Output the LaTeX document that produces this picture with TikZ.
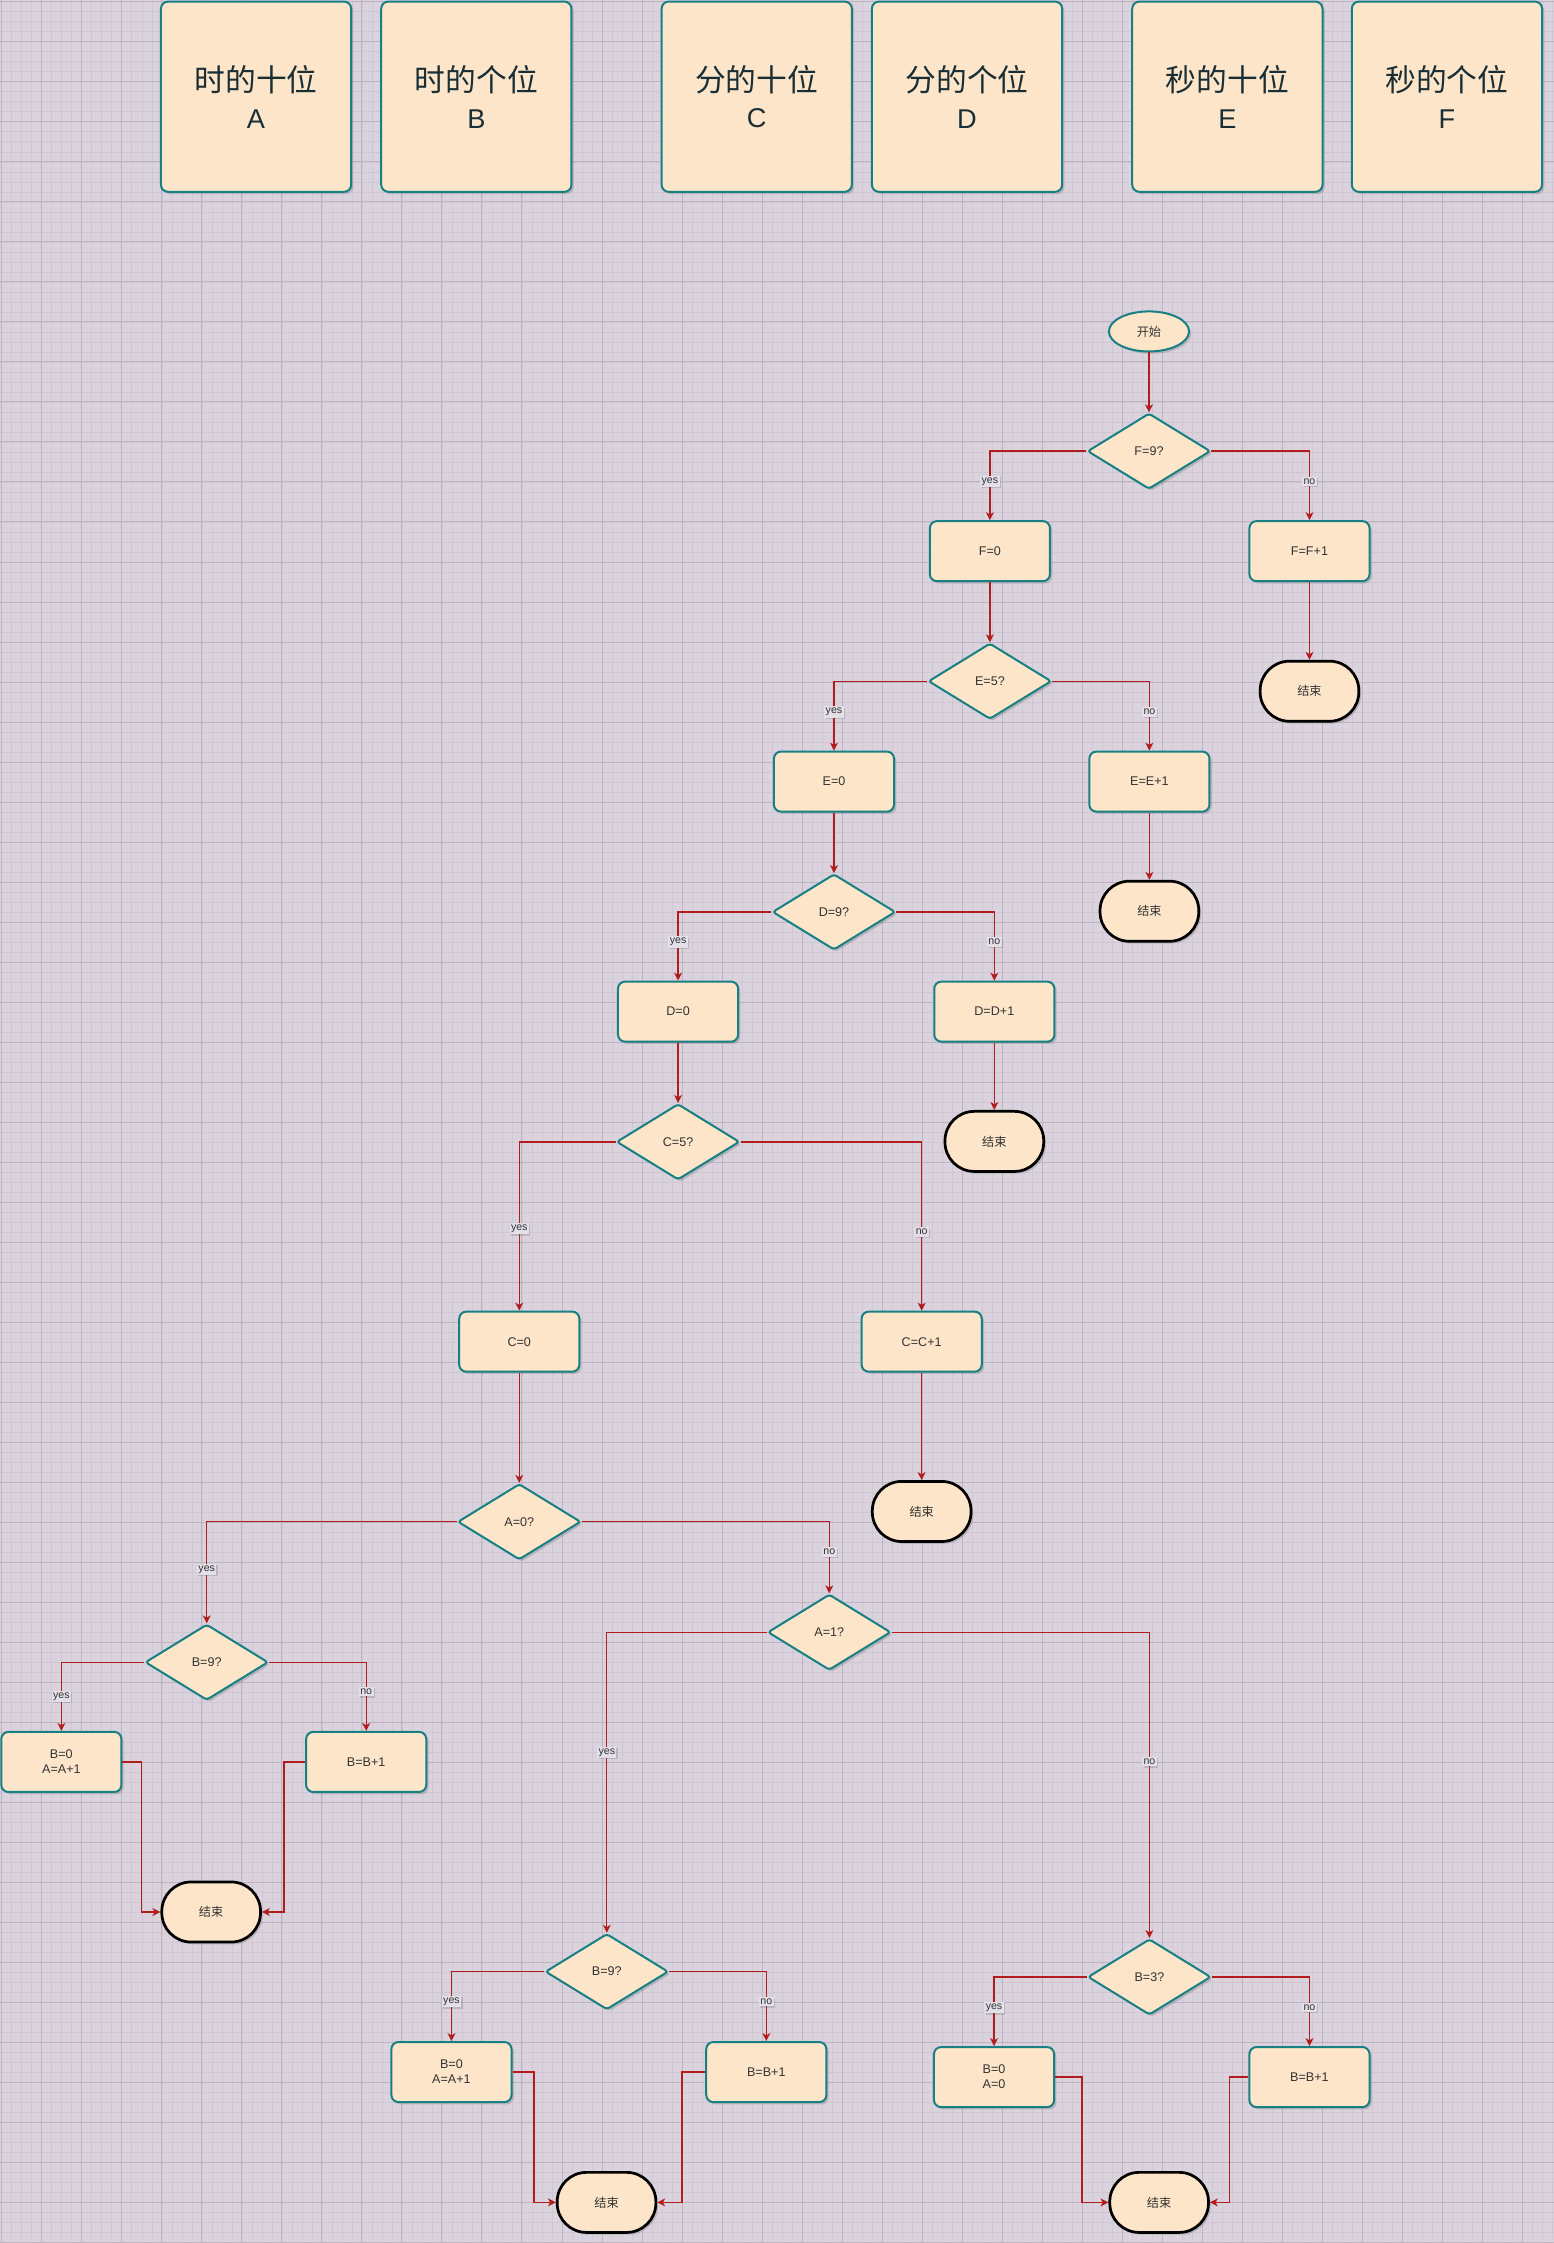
\documentclass[tikz,border=0pt]{standalone}
\usepackage{fontspec}
\setmainfont{Liberation Sans}
\newfontfamily\cjk{Noto Sans CJK SC}
\usetikzlibrary{shapes.geometric,arrows.meta,shadows}
\definecolor{bgc}{RGB}{218,210,220}
\definecolor{gminc}{RGB}{208,199,210}
\definecolor{gmajc}{RGB}{190,180,193}
\definecolor{boxfill}{RGB}{252,229,200}
\definecolor{teal}{RGB}{22,128,132}
\definecolor{arrc}{RGB}{178,28,28}
\definecolor{txt}{RGB}{51,51,51}
\definecolor{toptxt}{RGB}{26,46,53}
\definecolor{lblbg}{RGB}{228,224,234}
\newcommand\cjkL{\cjk\fontsize{21.5}{25.6}\selectfont}
\newcommand\cjkS{\cjk\fontsize{8.5}{10}\selectfont}
\begin{document}
\begin{tikzpicture}[x=1pt,y=-1pt,
  shd/.style={drop shadow={shadow xshift=1.6pt,shadow yshift=-1.6pt,opacity=0.22,fill=black!70}},
  topbox/.style={shd,draw=teal,line width=1.4pt,fill=boxfill,rounded corners=5pt,
    minimum width=133pt,minimum height=133pt,align=center,text=toptxt,
    font=\fontsize{19}{25.6}\selectfont},
  proc/.style={shd,draw=teal,line width=1.4pt,fill=boxfill,rounded corners=5pt,
    minimum width=84pt,minimum height=42pt,align=center,text=txt,
    font=\fontsize{8.8}{10.5}\selectfont},
  dec/.style={shd,diamond,draw=teal,line width=1.4pt,fill=boxfill,rounded corners=2pt,
    aspect=1.62,minimum width=86pt,minimum height=53pt,inner sep=0pt,text=txt,
    font=\fontsize{8.8}{10}\selectfont},
  startn/.style={shd,ellipse,draw=teal,line width=1.4pt,fill=boxfill,
    minimum width=56pt,minimum height=28pt,inner sep=0pt,text=txt},
  endn/.style={shd,draw=black,line width=1.9pt,fill=boxfill,rounded corners=20.5pt,
    minimum width=69pt,minimum height=42pt,text=txt},
  arr/.style={draw=arrc,line width=0.95pt,-{Stealth[length=5.5pt,width=5.5pt,inset=1.5pt]}},
  lbl/.style={fill=lblbg,inner xsep=1pt,inner ysep=1.2pt,text=txt,font=\fontsize{7.4}{8}\selectfont,
    drop shadow={shadow xshift=1pt,shadow yshift=-1pt,opacity=0.25,fill=black!60}},
  gmin/.style={draw=gminc,line width=0.35pt},
  gmaj/.style={draw=gmajc,line width=0.55pt}
]
\useasboundingbox (0,0) rectangle (1086,1568);
\fill[bgc] (0,0) rectangle (1086,1568);
% grid
\foreach \i in {0,...,155} \draw[gmin] ({1.19+\i*6.993},0) -- ({1.19+\i*6.993},1568);
\foreach \i in {0,...,224} \draw[gmin] (0,{1.19+\i*6.993}) -- (1086,{1.19+\i*6.993});
\foreach \i in {0,...,38} \draw[gmaj] ({1.19+\i*27.972},0) -- ({1.19+\i*27.972},1568);
\foreach \i in {0,...,56} \draw[gmaj] (0,{1.19+\i*27.972}) -- (1086,{1.19+\i*27.972});

% header boxes
\node[topbox] (tA) at (179,67.6) {{\cjkL 时的十位}\\A};
\node[topbox] (tB) at (333,67.6) {{\cjkL 时的个位}\\B};
\node[topbox] (tC) at (529,67.6) {{\cjkL 分的十位}\\C};
\node[topbox] (tD) at (676,67.6) {{\cjkL 分的个位}\\D};
\node[topbox] (tE) at (858,67.6) {{\cjkL 秒的十位}\\E};
\node[topbox] (tF) at (1011.5,67.6) {{\cjkL 秒的个位}\\F};

% flow nodes
\node[startn] (st) at (803.2,231.7) {\cjkS 开始};
\node[dec] (d1) at (803.2,315.4) {F=9?};
\node[proc] (f0) at (692,385.3) {F=0};
\node[proc] (f1) at (915.4,385.3) {F=F+1};
\node[endn] (e1) at (915.4,483.2) {\cjkS 结束};
\node[dec] (d2) at (692,476.2) {E=5?};
\node[proc] (ez) at (583,546.4) {E=0};
\node[proc] (ep) at (803.5,546.4) {E=E+1};
\node[endn] (e2) at (803.5,637) {\cjkS 结束};
\node[dec] (d3) at (583,637.5) {D=9?};
\node[proc] (dz) at (474,707.2) {D=0};
\node[proc] (dp) at (695.1,707.2) {D=D+1};
\node[endn] (e3) at (695.1,797.9) {\cjkS 结束};
\node[dec] (d4) at (474,798.2) {C=5?};
\node[proc] (cz) at (363,937.9) {C=0};
\node[proc] (cp) at (644.3,937.9) {C=C+1};
\node[endn] (e4) at (644.3,1056.6) {\cjkS 结束};
\node[dec] (d5) at (363,1063.8) {A=0?};
\node[dec] (d6) at (144.5,1162) {B=9?};
\node[proc] (b1) at (42.9,1231.7) {B=0\\A=A+1};
\node[proc] (b2) at (256,1231.7) {B=B+1};
\node[endn] (e5) at (147.6,1336.6) {\cjkS 结束};
\node[dec] (d7) at (579.7,1141) {A=1?};
\node[dec] (d8) at (424.2,1378.3) {B=9?};
\node[proc] (b3) at (315.6,1448.5) {B=0\\A=A+1};
\node[proc] (b4) at (535.7,1448.5) {B=B+1};
\node[endn] (e6) at (424,1539.6) {\cjkS 结束};
\node[dec] (d9) at (803.5,1382) {B=3?};
\node[proc] (b5) at (694.9,1452) {B=0\\A=0};
\node[proc] (b6) at (915.4,1452) {B=B+1};
\node[endn] (e7) at (810.3,1539.6) {\cjkS 结束};

% bend points
\coordinate (k1) at (99,1231.7);
\coordinate (k2) at (198.6,1231.7);
\coordinate (k3) at (373.4,1448.5);
\coordinate (k4) at (476.7,1448.5);
\coordinate (k5) at (756.4,1452);
\coordinate (k6) at (859.7,1452);

% connectors
\draw[arr] (st) -- (d1);
\draw[arr] (d1.west) -| (f0);
\draw[arr] (d1.east) -| (f1);
\draw[arr] (f1) -- (e1);
\draw[arr] (f0) -- (d2);
\draw[arr] (d2.west) -| (ez);
\draw[arr] (d2.east) -| (ep);
\draw[arr] (ep) -- (e2);
\draw[arr] (ez) -- (d3);
\draw[arr] (d3.west) -| (dz);
\draw[arr] (d3.east) -| (dp);
\draw[arr] (dp) -- (e3);
\draw[arr] (dz) -- (d4);
\draw[arr] (d4.west) -| (cz);
\draw[arr] (d4.east) -| (cp);
\draw[arr] (cp) -- (e4);
\draw[arr] (cz) -- (d5);
\draw[arr] (d5.west) -| (d6);
\draw[arr] (d5.east) -| (d7);
\draw[arr] (d6.west) -| (b1);
\draw[arr] (d6.east) -| (b2);
\draw[arr] (b1.east) -- (k1) |- (e5);
\draw[arr] (b2.west) -- (k2) |- (e5);
\draw[arr] (d7.west) -| (d8);
\draw[arr] (d7.east) -| (d9);
\draw[arr] (d8.west) -| (b3);
\draw[arr] (d8.east) -| (b4);
\draw[arr] (b3.east) -- (k3) |- (e6);
\draw[arr] (b4.west) -- (k4) |- (e6);
\draw[arr] (d9.west) -| (b5);
\draw[arr] (d9.east) -| (b6);
\draw[arr] (b5.east) -- (k5) |- (e7);
\draw[arr] (b6.west) -- (k6) |- (e7);

% labels
\node[lbl] (l1) at (692,336.5) {yes};
\node[lbl] (l2) at (915.4,336.5) {no};
\node[lbl] (l3) at (583,497.7) {yes};
\node[lbl] (l4) at (803.5,497.7) {no};
\node[lbl] (l5) at (474,658.5) {yes};
\node[lbl] (l6) at (695.1,658.5) {no};
\node[lbl] (l7) at (363,859) {yes};
\node[lbl] (l8) at (644.3,861.3) {no};
\node[lbl] (l9) at (144.5,1097) {yes};
\node[lbl] (l10) at (579.7,1085) {no};
\node[lbl] (l11) at (42.9,1185.8) {yes};
\node[lbl] (l12) at (256,1182.5) {no};
\node[lbl] (l13) at (424.2,1225) {yes};
\node[lbl] (l14) at (803.5,1231.5) {no};
\node[lbl] (l15) at (315.6,1399.3) {yes};
\node[lbl] (l16) at (535.7,1399.3) {no};
\node[lbl] (l17) at (694.9,1403.3) {yes};
\node[lbl] (l18) at (915.4,1403.3) {no};
\end{tikzpicture}
\end{document}
